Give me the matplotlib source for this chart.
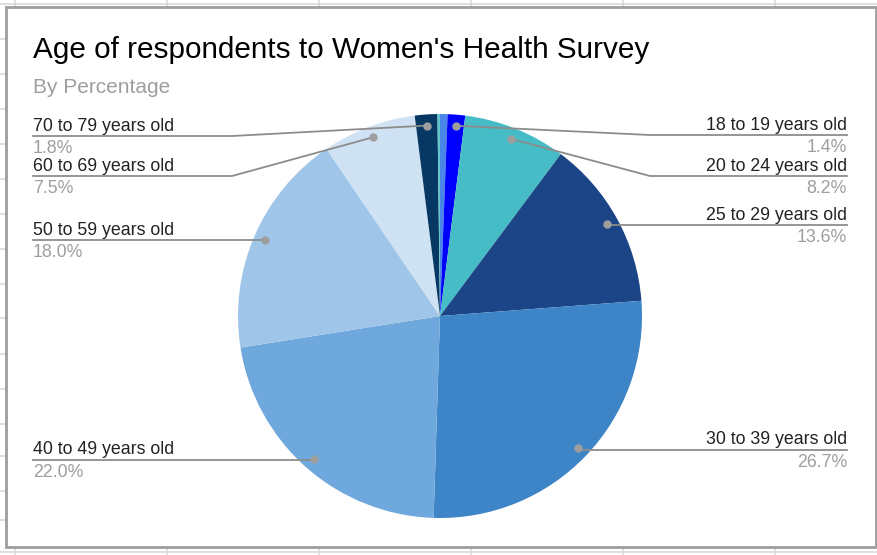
import numpy as np
import matplotlib.pyplot as plt
from matplotlib.patches import Rectangle

W, H = 878, 555

# slices, clockwise from 12 o'clock
categories = ['Under 18', '18 to 19 years old', '20 to 24 years old', '25 to 29 years old',
              '30 to 39 years old', '40 to 49 years old', '50 to 59 years old',
              '60 to 69 years old', '70 to 79 years old', '80 and over']
values = [0.6, 1.4, 8.2, 13.6, 26.7, 22.0, 18.0, 7.5, 1.8, 0.2]
colors = ['#4a86e8', '#0000ff', '#46bdc6', '#1c4587', '#3d85c6', '#6fa8dc',
          '#9fc5e8', '#cfe2f3', '#073763', '#62c6ce']

# labelled slices: index -> (side, y of leader line in px)
label_pos = {1: ('right', 135), 2: ('right', 176), 3: ('right', 225), 4: ('right', 450),
             5: ('left', 460), 6: ('left', 240), 7: ('left', 176), 8: ('left', 136)}

title = "Age of respondents to Women's Health Survey"
subtitle = 'By Percentage'

# spreadsheet grid behind the chart
grid_x = [15, 167, 319, 471, 623, 775]
grid_y = [4, 39, 74, 109, 144, 179, 214, 249, 284, 318, 354, 389, 424, 456, 491, 520, 552]

CX, CY, R = 440, 316, 202
FONT = 'Liberation Sans'


def Y(y):
    return H - y


fig = plt.figure(figsize=(W / 100, H / 100), dpi=100)
ax = fig.add_axes([0, 0, 1, 1])

for gx in grid_x:
    ax.plot([gx, gx], [0, H], color='#d9d9d9', lw=1.2, zorder=0)
for gy in grid_y:
    ax.plot([0, W], [Y(gy), Y(gy)], color='#d9d9d9', lw=1.2, zorder=0)

ax.add_patch(Rectangle((6, Y(547)), 870, 540, facecolor='white', edgecolor='#9e9e9e',
                       lw=2, zorder=1))

ax.pie(values, colors=colors, startangle=90, counterclock=False,
       center=(CX, Y(CY)), radius=R, wedgeprops=dict(linewidth=0, zorder=2))

ax.text(33, Y(57.5), title, fontsize=21.4, family=FONT, color='#000000', va='baseline', zorder=5)
ax.text(33, Y(92.5), subtitle, fontsize=15, family=FONT, color='#9e9e9e', va='baseline', zorder=5)

total = sum(values)
cum = np.cumsum([0] + values)
for i, (side, ly) in label_pos.items():
    mid = (cum[i] + values[i] / 2) / total * 2 * np.pi
    dx = CX + 0.945 * R * np.sin(mid)
    dy = CY - 0.945 * R * np.cos(mid)
    if side == 'left':
        x0, xe, ha = 33, 232, 'left'
    else:
        x0, xe, ha = 847, 650, 'right'
    if abs(dy - ly) < 3:
        xs = [x0, dx]
        ys = [ly, ly]
    else:
        xs = [x0, xe, dx]
        ys = [ly, ly, dy]
    ax.plot(xs, [Y(v) for v in ys], color='#8c8c8c', lw=1.3, zorder=4)
    ax.plot(dx, Y(dy), 'o', ms=5, color='#9e9e9e', zorder=4)
    ax.text(x0, Y(ly - 5.5), categories[i], fontsize=12.8, family=FONT, color='#222222',
            ha=ha, va='baseline', zorder=5)
    ax.text(x0, Y(ly + 17), f'{values[i]:.1f}%', fontsize=12.8, family=FONT, color='#9e9e9e',
            ha=ha, va='baseline', zorder=5)

ax.set_xlim(0, W)
ax.set_ylim(0, H)
ax.axis('off')
fig.savefig('out.png', dpi=100)
